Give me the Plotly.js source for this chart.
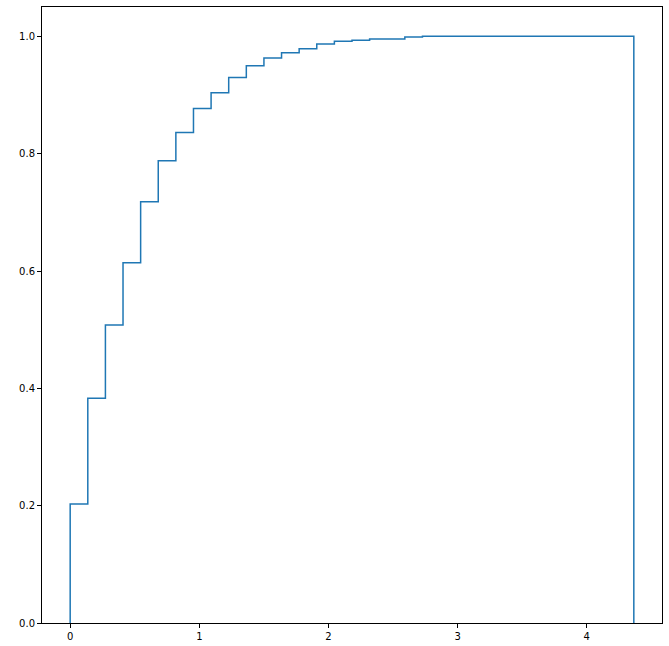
<!DOCTYPE html>
<html>
<head>
<meta charset="utf-8">
<script src="https://cdn.plot.ly/plotly-3.0.1.min.js"></script>
<style>
	html, body { margin: 0; padding: 0; background: #fff; }
	#chart { width: 669px; height: 646px; }
</style>
</head>
<body>
<div id="chart"></div>
<script>
// histogram range and number of bins
const binStart = 0;
const binEnd = 4.364;
const binCount = 32;

// cumulative density level of each bin
const cumulativeLevels = [
	0.203, 0.383, 0.508, 0.614, 0.718, 0.788, 0.836, 0.877,
	0.904, 0.930, 0.950, 0.963, 0.972, 0.979, 0.987, 0.9915,
	0.9935, 0.9956, 0.9956, 0.999, 1.0, 1.0, 1.0, 1.0,
	1.0, 1.0, 1.0, 1.0, 1.0, 1.0, 1.0, 1.0
];

const yTicks = [0, 0.2, 0.4, 0.6, 0.8, 1.0];
const xTicks = [0, 1, 2, 3, 4];

function getBinEdges() {
	let edges = [];
	let width = (binEnd - binStart) / binCount;
	for (let i = 0; i <= binCount; i++) {
		edges.push(binStart + i * width);
	}
	return edges;
}

function buildStepOutline() {
	let edges = getBinEdges();
	// outline like a "step" histogram: up from 0, across each bin, down at the end
	let x = [edges[0]];
	let y = [0];
	for (let i = 0; i < cumulativeLevels.length; i++) {
		x.push(edges[i]);
		y.push(cumulativeLevels[i]);
	}
	x.push(edges[edges.length - 1]);
	y.push(0);
	return { x: x, y: y };
}

function plotChart() {
	let outline = buildStepOutline();
	let pad = (binEnd - binStart) * 0.05;

	let data = [{
		x: outline.x,
		y: outline.y,
		type: "scatter",
		mode: "lines",
		line: { shape: "hv", color: "#1f77b4", width: 1.5 },
		hoverinfo: "skip"
	}];

	let axisStyle = {
		showgrid: false,
		zeroline: false,
		showline: true,
		mirror: true,
		linecolor: "#000",
		linewidth: 1,
		ticks: "outside",
		ticklen: 4,
		tickwidth: 1,
		tickcolor: "#000",
		tickfont: { family: "DejaVu Sans", size: 10, color: "#000" }
	};

	let layout = {
		width: 669,
		height: 646,
		margin: { l: 42, r: 7, t: 7, b: 23 },
		paper_bgcolor: "#fff",
		plot_bgcolor: "#fff",
		showlegend: false,
		xaxis: Object.assign({}, axisStyle, {
			range: [binStart - pad, binEnd + pad],
			tickmode: "array",
			tickvals: xTicks,
			ticktext: xTicks.map(v => String(v))
		}),
		yaxis: Object.assign({}, axisStyle, {
			range: [0, 1.05],
			tickmode: "array",
			tickvals: yTicks,
			ticktext: yTicks.map(v => v.toFixed(1))
		})
	};

	Plotly.newPlot("chart", data, layout, { displayModeBar: false, staticPlot: true });
}

plotChart();
</script>
</body>
</html>
